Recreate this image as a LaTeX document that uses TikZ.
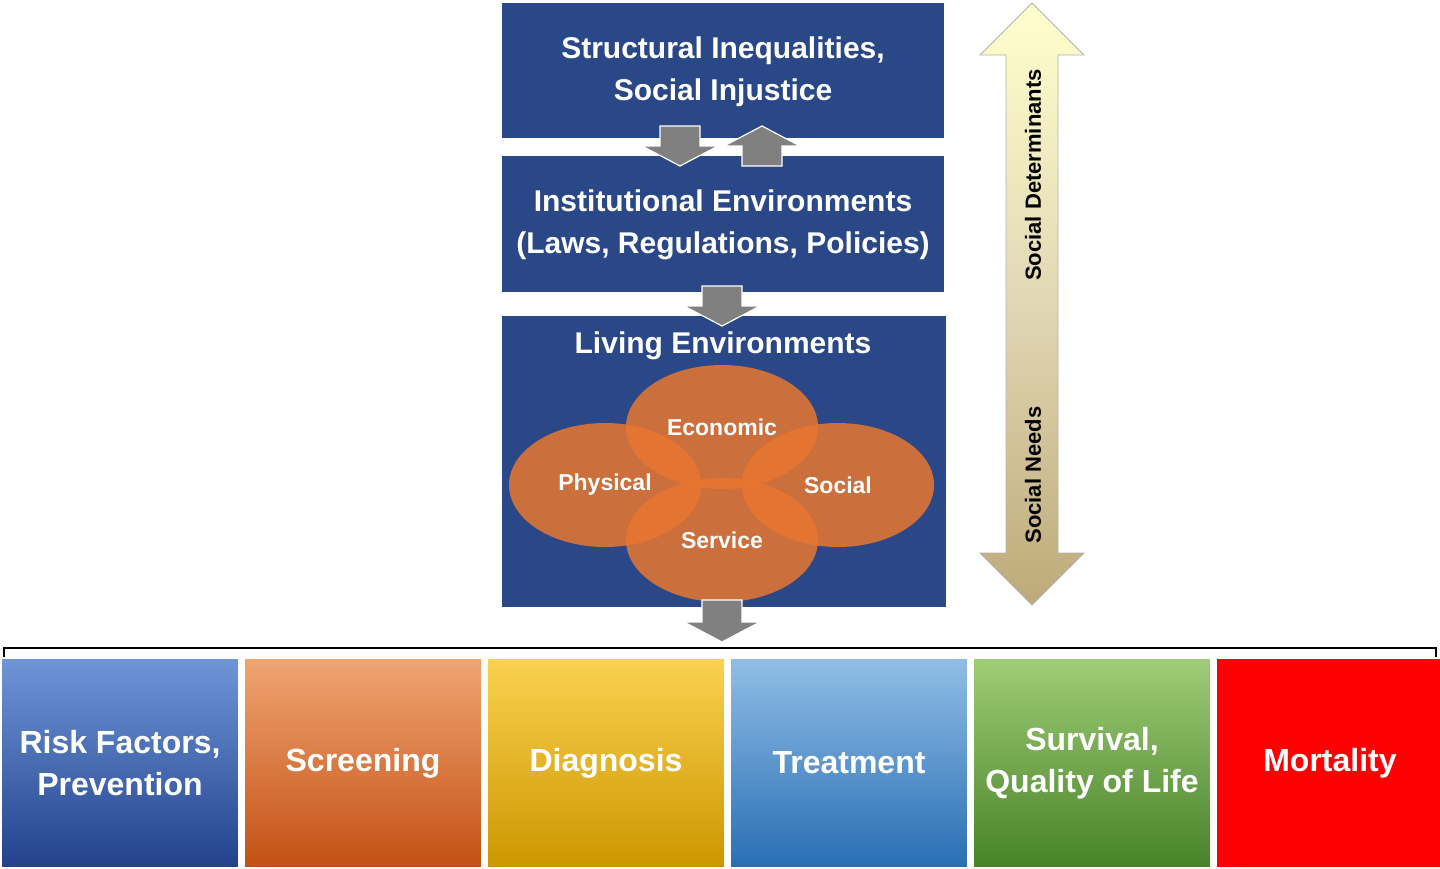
\documentclass[tikz,border=0pt]{standalone}
\usepackage{fontspec}
\setmainfont{Liberation Sans}
\usetikzlibrary{shapes.geometric}
\definecolor{boxblue}{RGB}{42,72,136}
\definecolor{ovalorange}{RGB}{232,118,48}
\definecolor{arrowgray}{RGB}{128,128,128}
\tikzset{
  level/.style={fill=boxblue, draw=none, text=white, font=\bfseries\fontsize{15}{21}\selectfont, align=center},
  oval/.style={ellipse, fill=ovalorange, fill opacity=0.85, text opacity=1, text=white, minimum width=96pt, minimum height=62pt, font=\bfseries\fontsize{11.5}{14}\selectfont, inner sep=0pt},
  stage/.style={draw=white, line width=1pt, text=white, align=center, font=\bfseries\fontsize{16}{21}\selectfont},
  flow/.style={fill=arrowgray, draw=white, line width=0.6pt}
}
\newcommand*{\blockdown}[3]{% x, ytop, ybottom
  \filldraw[flow] (#1-20,#2) -- (#1+20,#2) -- (#1+20,#3-20) -- (#1+38,#3-20) -- (#1,#3) -- (#1-38,#3-20) -- (#1-20,#3-20) -- cycle;
}
\begin{document}
\begin{tikzpicture}[x=0.5pt,y=-0.5pt]
  \useasboundingbox (0,0) rectangle (1440,868);
  % three levels
  \fill[boxblue] (502,3) rectangle (944,138);
  \node[level] (struct) at (723,72) {Structural Inequalities,\\Social Injustice};
  \fill[boxblue] (502,156) rectangle (944,292);
  \node[level] (inst) at (723,225) {Institutional Environments\\(Laws, Regulations, Policies)};
  \fill[boxblue] (502,316) rectangle (946,607);
  \node[level] (living) at (723,346) {Living Environments};
  % overlapping domains
  \node[oval] (phys) at (605,485) {};
  \node[oval] (soc) at (838,485) {};
  \node[oval] (econ) at (722,427) {};
  \node[oval] (serv) at (722,540) {};
  \node[text=white, font=\bfseries\fontsize{11.5}{14}\selectfont] at (phys.center) {Physical};
  \node[text=white, font=\bfseries\fontsize{11.5}{14}\selectfont] at (soc.center) {Social};
  \node[text=white, font=\bfseries\fontsize{11.5}{14}\selectfont] at (econ.center) {Economic};
  \node[text=white, font=\bfseries\fontsize{11.5}{14}\selectfont] at (serv.center) {Service};
  % gray arrows
  \blockdown{680}{126}{166}
  \filldraw[flow] (742,166) -- (782,166) -- (782,146) -- (800,146) -- (762,126) -- (724,146) -- (742,146) -- cycle;
  \blockdown{722}{286}{326}
  \blockdown{722}{600}{642}
  % double arrow
  \shade[top color=yellow!20!white, bottom color={rgb,255:red,190;green,170;blue,120}, middle color={rgb,255:red,225;green,215;blue,180}, draw=gray!60]
    (1032,3) -- (1084,55) -- (1058,55) -- (1058,553) -- (1084,553) -- (1032,605) -- (980,553) -- (1006,553) -- (1006,55) -- (980,55) -- cycle;
  \node[rotate=90, font=\bfseries\fontsize{11}{13}\selectfont] (sdet) at (1033,175) {Social Determinants};
  \node[rotate=90, font=\bfseries\fontsize{11}{13}\selectfont] (sneed) at (1033,475) {Social Needs};
  % bracket
  \draw[line width=0.8pt] (4,662) -- (4,648) -- (1436,648) -- (1436,662);
  % continuum
  \node[stage, shading=axis, top color={rgb,255:red,110;green,150;blue,215}, bottom color={rgb,255:red,35;green,65;blue,140}, minimum width=119pt, minimum height=105pt] (risk) at (120,763) {Risk Factors,\\Prevention};
  \node[stage, top color={rgb,255:red,240;green,165;blue,115}, bottom color={rgb,255:red,195;green,80;blue,20}, minimum width=119pt, minimum height=105pt] (scr) at (363,763) {Screening};
  \node[stage, top color={rgb,255:red,250;green,210;blue,80}, bottom color={rgb,255:red,205;green,150;blue,0}, minimum width=119pt, minimum height=105pt] (diag) at (606,763) {Diagnosis};
  \node[stage, top color={rgb,255:red,145;green,190;blue,230}, bottom color={rgb,255:red,40;green,110;blue,180}, minimum width=119pt, minimum height=105pt] (treat) at (849,763) {Treatment};
  \node[stage, top color={rgb,255:red,160;green,205;blue,120}, bottom color={rgb,255:red,70;green,130;blue,40}, minimum width=119pt, minimum height=105pt] (surv) at (1092,763) {Survival,\\Quality of Life};
  \node[stage, fill=red, minimum width=114pt, minimum height=105pt] (mort) at (1330,763) {Mortality};
\end{tikzpicture}
\end{document}
